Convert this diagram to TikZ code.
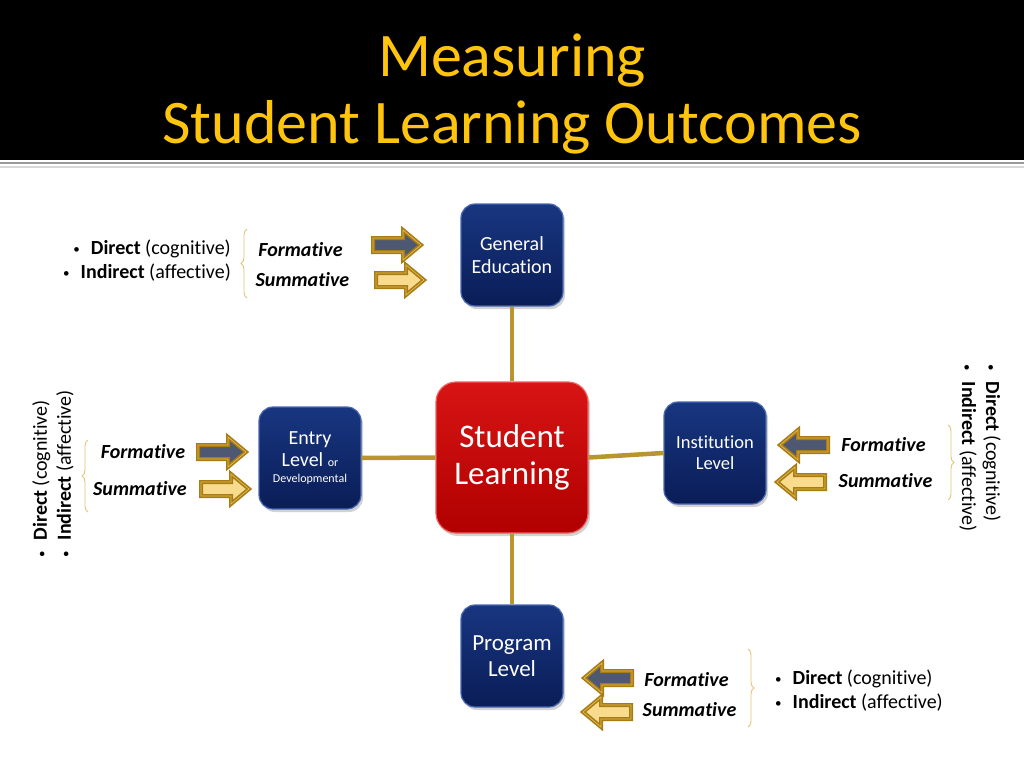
\documentclass[tikz,border=0pt]{standalone}
\usepackage{fontspec}
\setmainfont{Carlito}[Ligatures=NoCommon]
\usetikzlibrary{shadows,decorations.pathreplacing}
\definecolor{titleyellow}{HTML}{FFC40C}
\definecolor{hdrgray}{HTML}{9A9A9A}
\definecolor{hdrlight}{HTML}{D8D8D8}
\definecolor{navytop}{HTML}{183680}
\definecolor{navybot}{HTML}{0A1D57}
\definecolor{navyedge}{HTML}{4A68B0}
\definecolor{redtop}{HTML}{D81414}
\definecolor{redbot}{HTML}{B00000}
\definecolor{rededge}{HTML}{EC6060}
\definecolor{conngold}{HTML}{B8952E}
\definecolor{arrgold}{HTML}{A87C12}
\definecolor{arrlight}{HTML}{E2BC58}
\definecolor{formfill}{HTML}{4E5872}
\definecolor{sumfill}{HTML}{F9DB8E}
\definecolor{bracegold}{HTML}{E3C378}
\newcommand{\smbul}{{\fontsize{13}{13}\selectfont\raisebox{1pt}{\textbullet}}\hspace{11pt}}
\begin{document}
\begin{tikzpicture}[x=1pt,y=-1pt,
  titletext/.style={text=titleyellow, font=\fontsize{62}{68}\selectfont, inner sep=0pt},
  box/.style={rounded corners=14pt, minimum width=102pt, minimum height=102pt, inner sep=2pt,
    text=white, align=center, line width=1.2pt,
    drop shadow={shadow xshift=2pt, shadow yshift=-3pt, opacity=0.35}},
  navy/.style={box, draw=navyedge, top color=navytop, bottom color=navybot},
  redbox/.style={box, rounded corners=20pt, minimum width=152pt, minimum height=151pt,
    draw=rededge, top color=redtop, bottom color=redbot, font=\fontsize{33}{37}\selectfont},
  conn/.style={draw=conngold, line width=4.5pt},
  fstext/.style={font=\fontsize{20}{24}\selectfont\bfseries\itshape, inner sep=0pt},
  bultext/.style={font=\fontsize{20}{24}\selectfont, inner sep=2pt},
  bracestyle/.style={draw=bracegold, line width=0.9pt, decorate, decoration={brace, amplitude=6pt}},
  pics/barrow/.style={code={
    \filldraw[draw=arrgold, line width=4pt, line join=miter, fill=#1]
      (-24,-7) -- (6,-7) -- (6,-15) -- (24,0) -- (6,15) -- (6,7) -- (-24,7) -- cycle;
    \draw[draw=arrlight, line width=0.7pt, line join=miter]
      (-24,-7) -- (6,-7) -- (6,-15) -- (24,0) -- (6,15) -- (6,7) -- (-24,7) -- cycle;
  }}
]
\useasboundingbox (0,0) rectangle (1024,768);
\fill[white] (0,0) rectangle (1024,768);
% header
\fill[black] (0,0) rectangle (1024,160);
\draw[line width=2pt, hdrgray] (0,163) -- (1024,163);
\draw[line width=2pt, hdrlight] (0,166.5) -- (1024,166.5);
\node[titletext, anchor=base] (t1) at (512,76) {Measuring};
\node[titletext, anchor=base] (t2) at (512,143) {Student Learning Outcomes};

% boxes
\node[navy, font=\fontsize{20}{23}\selectfont] (gened) at (512,255) {General\\Education};
\node[redbox] (sl) at (512,457.5) {Student\\Learning};
\node[navy, font=\fontsize{20}{22}\selectfont] (entry) at (310,458)
  {Entry\\Level {\fontsize{12}{12}\selectfont or}\\[-6pt]{\fontsize{12}{14}\selectfont Developmental}};
\node[navy, font=\fontsize{18.5}{21}\selectfont] (inst) at (715,453) {Institution\\Level};
\node[navy, font=\fontsize{23}{26}\selectfont] (prog) at (512,656) {Program\\Level};

% connectors
\draw[conn] (gened.south) -- (sl.north);
\draw[conn] (sl.south) -- (prog.north);
\draw[conn] (entry.east) -- (sl.west);
\draw[conn] (sl.east) -- (inst.west);

% top-left group
\node[bultext, anchor=east, align=right] (tlb) at (233,261)
  {\smbul\textbf{Direct} (cognitive)\\\smbul\textbf{Indirect} (affective)};
\draw[bracestyle] (247,298) -- (247,229);
\node[fstext] (tlf) at (300.5,250) {Formative};
\node[fstext] (tls) at (302.5,280) {Summative};
\pic at (397,245) {barrow=formfill};
\pic at (400,280) {barrow=sumfill};

% left group (entry)
\node[bultext, rotate=90, anchor=west, align=left] (lb) at (53,560)
  {\smbul\textbf{Direct} (cognitive)\\\smbul\textbf{Indirect} (affective)};
\draw[bracestyle] (88,512) -- (88,440);
\node[fstext] (lf) at (143,452) {Formative};
\node[fstext] (ls) at (140,489) {Summative};
\pic at (222,452) {barrow=formfill};
\pic at (225,489) {barrow=sumfill};

% right group (institution)
\node[bultext, rotate=-90, anchor=west, align=left] (rb) at (980,362)
  {\smbul\textbf{Direct} (cognitive)\\\smbul\textbf{Indirect} (affective)};
\draw[bracestyle] (948,425) -- (948,500);
\node[fstext] (rf) at (883.5,445) {Formative};
\node[fstext] (rs) at (885.5,481) {Summative};
\pic[rotate=180] at (804,445) {barrow=formfill};
\pic[rotate=180] at (801,482) {barrow=sumfill};

% bottom group (program)
\node[bultext, anchor=west, align=left] (bb) at (773,691)
  {\smbul\textbf{Direct} (cognitive)\\\smbul\textbf{Indirect} (affective)};
\draw[bracestyle] (748,649) -- (748,727);
\node[fstext] (bf) at (686.5,680) {Formative};
\node[fstext] (bs) at (689.5,710) {Summative};
\pic[rotate=180] at (608,678) {barrow=formfill};
\pic[rotate=180] at (607,712) {barrow=sumfill};
\end{tikzpicture}
\end{document}
